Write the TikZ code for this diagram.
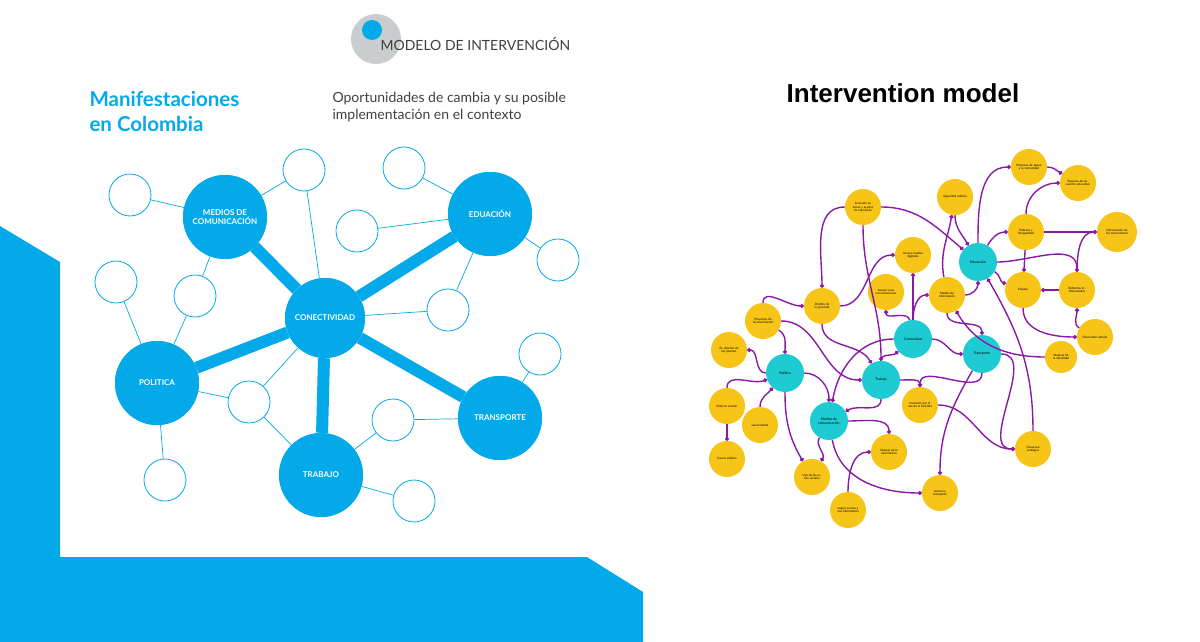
\documentclass[tikz,border=0pt]{standalone}
\usepackage{fontspec}
\setmainfont{Lato}
\newfontfamily\arialf{Liberation Sans}
\usetikzlibrary{arrows.meta}
\definecolor{cblue}{HTML}{03A9E8}
\definecolor{cteal}{HTML}{1FCBD2}
\definecolor{cyel}{HTML}{F7C418}
\definecolor{cpur}{HTML}{8A1AA6}
\definecolor{cgrey}{HTML}{C9CDCD}
\tikzset{
 big/.style={circle,fill=cblue,minimum size=84pt,inner sep=0pt,text=white,font=\fontsize{8}{9}\selectfont\bfseries,align=center},
 small/.style={circle,draw=cblue,fill=white,line width=0.8pt,minimum size=42pt,inner sep=0pt},
 thin/.style={cblue,line width=0.7pt},
 thick/.style={cblue,line width=12pt},
 tn/.style={circle,fill=cteal,minimum size=38pt,inner sep=0pt,font=\fontsize{3.5}{4}\selectfont,align=center},
 yn/.style={circle,fill=cyel,minimum size=36pt,inner sep=0pt,font=\fontsize{3}{3.6}\selectfont,align=center,text width=26pt},
 pe/.style={cpur,line width=1.4pt,-{Circle[length=4pt]}},
}
\begin{document}
\begin{tikzpicture}[x=1pt,y=-1pt]
\useasboundingbox (0,0) rectangle (1200,642);
\fill[cblue] (0,226) -- (60,262) -- (60,557) -- (587,557) -- (643,592) -- (643,642) -- (0,642) -- cycle;
% header
\fill[cgrey] (376,39) circle (25pt);
\fill[cblue] (372,30) circle (10pt);
\node[anchor=west,text=black!75,font=\fontsize{14}{16}\selectfont] (hd) at (377,44) {MODELO DE INTERVENCIÓN};
\node[anchor=north west,text=cblue,font=\fontsize{20.5}{25}\selectfont\bfseries,align=left] (t1) at (86,88) {Manifestaciones\\en Colombia};
\node[anchor=north west,text=black!75,font=\fontsize{14}{17}\selectfont,align=left] (t2) at (329,89) {Oportunidades de cambia y su posible\\implementación en el contexto};
% big nodes
\node[big] (med) at (225,217) {MEDIOS DE\\COMUNICACIÓN};
\node[big] (edu) at (490,214) {EDUACIÓN};
\node[big,minimum size=80pt] (con) at (325,318) {CONECTIVIDAD};
\node[big] (pol) at (157,383) {POLITICA};
\node[big] (tra) at (500,418) {TRANSPORTE};
\node[big] (trb) at (321,475) {TRABAJO};
\foreach \n in {med,edu,pol,tra,trb}{\draw[thick] (con) -- (\n);}
% small
\foreach \i/\x/\y in {a/130/195,b/304/170,c/404/168,d/357/231,e/558/260,f/116/282,g/195/296,h/448/310,i/540/354,j/249/402,k/393/420,l/165/480,m/414/501}{\node[small] (s\i) at (\x,\y) {};}
\foreach \u/\v in {sa/med,med/sb,sb/con,sc/edu,sd/edu,edu/se,edu/sh,con/sh,sf/pol,sg/med,sg/pol,tra/si,pol/sj,sj/con,sj/trb,sk/trb,sk/tra,pol/sl,trb/sm}{\draw[thin] (\u) -- (\v);}
\node[big] at (med) {MEDIOS DE\\COMUNICACIÓN};
\node[big] at (edu) {EDUACIÓN};
\node[big,minimum size=80pt] at (con) {CONECTIVIDAD};
\node[big] at (pol) {POLITICA};
\node[big] at (tra) {TRANSPORTE};
\node[big] at (trb) {TRABAJO};
% right title
\node[font=\arialf\bfseries\fontsize{26}{30}\selectfont] (rt) at (903,93) {Intervention model};
% right nodes
\node[tn] (Edu) at (978,262) {Educación};
\node[tn] (Com) at (913,339) {Comunidad};
\node[tn] (Tra) at (982,354) {Transporte};
\node[tn] (Pol) at (785,373) {Política};
\node[tn] (Trb) at (881,380) {Trabajo};
\node[tn] (Med) at (829,421) {Medios de\\comunicación};
\node[yn] (y1) at (863,207) {Inversión en becas y ayudas de educación};
\node[yn] (y2) at (955,197) {Seguridad pública};
\node[yn] (y3) at (1029,167) {Procesos de apoyo a la comunidad};
\node[yn] (y4) at (1078,183) {Espacios de encuentro educativo};
\node[yn] (y5) at (1026,232) {Pobreza y desigualdad};
\node[yn,minimum size=40pt] (y6) at (1117,232) {Intervención de los movimientos};
\node[yn] (y7) at (913,255) {Acceso medios digitales};
\node[yn] (y8) at (1023,290) {Empleo};
\node[yn] (y9) at (1077,290) {Reformas institucionales};
\node[yn] (y10) at (947,295) {Medios de información};
\node[yn] (y11) at (822,306) {Pérdida de la juventud};
\node[yn] (y12) at (886,292) {Acceso a las comunicaciones};
\node[yn] (y13) at (763,321) {Proyectos de reconocimiento};
\node[yn] (y14) at (1095,337) {Diversidad cultural};
\node[yn,minimum size=32pt] (y15) at (1061,357) {Mejoras de la movilidad};
\node[yn] (y16) at (729,350) {En relación de los jóvenes};
\node[yn] (y17) at (727,406) {Entorno escolar};
\node[yn] (y18) at (760,425) {salud mental};
\node[yn] (y19) at (727,459) {Fuerza pública};
\node[yn] (y20) at (920,405) {Inversión por el uso de la bicicleta};
\node[yn] (y21) at (812,477) {Uso de las redes sociales};
\node[yn] (y22) at (889,452) {Manejo de la información};
\node[yn] (y23) at (1033,449) {Consenso ecológico};
\node[yn] (y24) at (940,493) {Acceso a transporte};
\node[yn] (y25) at (848,510) {Lograr acceso a una información};
% edges
\draw[pe] (Edu) to[out=90,in=180] (y3);
\draw[pe] (y3) to[out=0,in=150] (y4);
\draw[pe] (y5) to[out=90,in=180] (y4);
\draw[pe] (Edu) to[out=60,in=180] (y5);
\draw[pe] (y5) to[out=0,in=180] (y6);
\draw[pe] (y5) -- (y8);
\draw[pe] (Edu) to[out=-30,in=160] (y8);
\draw[pe] (Edu) to[out=0,in=90] (y9);
\draw[pe] (y9) to[out=90,in=180] (y6);
\draw[pe] (y9) -- (y8);
\draw[pe] (y8) to[out=-90,in=180] (y14);
\draw[pe] (y14) to[out=150,in=-90] (y9);
\draw[pe] (y2) to[out=-90,in=120] (Edu);
\draw[pe] (y1) to[out=0,in=140] (Edu);
\draw[pe] (y10) to[out=0,in=-90] (Edu);
\draw[pe] (y10) to[out=100,in=-100] (y2);
\draw[pe] (Com) to[out=90,in=180] (y10);
\draw[pe] (y10) to[out=-90,in=90] (Tra);
\draw[pe] (y15) to[out=180,in=-60] (y10);
\draw[pe] (Com) -- (y7);
\draw[pe] (Com) to[out=100,in=-90] (y12);
\draw[pe] (Com) to[out=0,in=180] (Tra);
\draw[pe] (Com) to[out=180,in=80] (Med);
\draw[pe] (Trb) to[out=90,in=-140] (Com);
\draw[pe] (y11) to[out=0,in=180] (y7);
\draw[pe] (y1) to[out=180,in=90] (y11);
\draw[pe] (y11) to[out=-90,in=120] (Trb);
\draw[pe] (y13) to[out=90,in=180] (y11);
\draw[pe] (y13) to[out=0,in=180] (Trb);
\draw[pe] (y1) to[out=-90,in=90] (Trb);
\draw[pe] (y13) to[out=-30,in=90] (Pol);
\draw[pe] (Pol) to[out=180,in=0] (y16);
\draw[pe] (y17) to[out=90,in=200] (Pol);
\draw[pe] (y18) to[out=90,in=230] (Pol);
\draw[pe] (y17) -- (y19);
\draw[pe] (Pol) to[out=0,in=90] (Med);
\draw[pe] (Pol) to[out=-90,in=120] (y21);
\draw[pe] (Med) to[out=-120,in=60] (y21);
\draw[pe] (Trb) to[out=-90,in=30] (Med);
\draw[pe] (Trb) to[out=0,in=90] (y20);
\draw[pe] (Tra) to[out=-90,in=90] (y20);
\draw[pe] (Tra) to[out=-120,in=90] (y24);
\draw[pe] (Tra) to[out=0,in=180] (y23);
\draw[pe] (y20) to[out=0,in=180] (y23);
\draw[pe] (y23) to[out=90,in=-60] (Edu);
\draw[pe] (Med) to[out=0,in=90] (y22);
\draw[pe] (y25) to[out=90,in=180] (y22);
\draw[pe] (Med) to[out=-80,in=180] (y24);
\end{tikzpicture}
\end{document}
